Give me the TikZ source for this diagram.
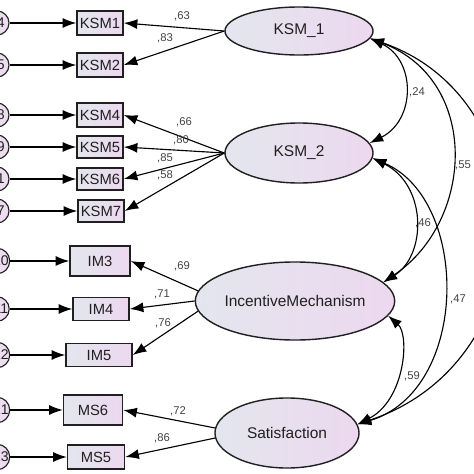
\documentclass[tikz,border=0pt]{standalone}
\usepackage{fontspec}
\setmainfont{Liberation Sans}
\usetikzlibrary{arrows.meta, shapes.geometric}
\usepackage{xcolor}
\definecolor{shadeL}{HTML}{E3E6EE}
\definecolor{shadeR}{HTML}{EDD8EF}
\definecolor{errfill}{HTML}{EEDDF0}
\definecolor{ink}{HTML}{202020}

\begin{document}
\begin{tikzpicture}[x=0.025cm, y=-0.025cm, >={Latex[length=0.34cm, width=0.25cm]}, line width=0.8pt,
  obs/.style={draw=ink, line width=1.1pt, left color=shadeL, right color=shadeR, inner sep=0pt, text=ink, font=\fontsize{10.5}{12}\selectfont},
  lat/.style={ellipse, draw=ink, line width=1pt, left color=shadeL, right color=shadeR, inner sep=0pt, text=ink, font=\fontsize{11}{13}\selectfont},
  err/.style={circle, draw=ink, fill=errfill, minimum size=0.6cm, inner sep=0pt, text=ink, font=\fontsize{10}{12}\selectfont},
  lbl/.style={inner sep=0pt, text=ink!85, font=\fontsize{8}{10}\selectfont}]
  \useasboundingbox (0,0) rectangle (474,474);
  \def\ex{-3}

  % latent factors
  \node[lat, minimum width=3.7cm, minimum height=1.2cm] (ksma) at (299,31) {KSM\_1};
  \node[lat, minimum width=3.7cm, minimum height=1.5cm] (ksmb) at (299,153) {KSM\_2};
  \node[lat, minimum width=4.1cm, minimum height=1.95cm] (incentive) at (295,301) {IncentiveMechanism};
  \node[lat, minimum width=3.6cm, minimum height=1.75cm] (satisf) at (287,433) {Satisfaction};

  % indicators and their errors
  \foreach \n/\x/\y/\w/\h/\e in {KSM1/100/23/46/24/e4, KSM2/100/65/46/24/e5,
      KSM4/100/115/46/24/e8, KSM5/100/147/46/22/e9, KSM6/100/179/46/22/e1,
      KSM7/101/211/46/22/e7, IM3/100/261/60/30/e10, IM4/101/309/56/23/e11,
      IM5/99/355/66/23/e12, MS6/93/410/59/30/e21, MS5/96/457/57/24/e23} {
    \node[obs, minimum width=\w*0.025cm, minimum height=\h*0.025cm] (\n) at (\x,\y) {\n};
    \node[err] (\e) at (\ex,\y) {\e};
    \draw[->] (\e) -- (\n);
  }

  % loadings
  \foreach \b/\v/\lx/\ly in {KSM1/63/182/16, KSM2/83/165/38} {
    \draw[->] (ksma.west) -- (\b.east);
    \node[lbl] (w\b) at (\lx,\ly) {,\v};
  }
  \foreach \b/\v/\lx/\ly in {KSM4/66/184/122, KSM5/80/181/140, KSM6/85/165/158, KSM7/58/165/175} {
    \draw[->] (ksmb.west) -- (\b.east);
    \node[lbl] (w\b) at (\lx,\ly) {,\v};
  }
  \foreach \b/\a/\v/\lx/\ly in {IM3/174/69/182/266, IM4/180/71/162/294, IM5/186/76/163/323} {
    \draw[->] (incentive.\a) -- (\b.east);
    \node[lbl] (w\b) at (\lx,\ly) {,\v};
  }
  \foreach \b/\a/\v/\lx/\ly in {MS6/176/72/178/411, MS5/184/86/162/438} {
    \draw[->] (satisf.\a) -- (\b.east);
    \node[lbl] (w\b) at (\lx,\ly) {,\v};
  }

  % covariances
  \draw[<->] (ksma.-6) .. controls (416,60) and (416,120) .. (ksmb.8);
  \draw[<->] (ksma.-6) .. controls (480,80) and (475,220) .. (incentive.12);
  \draw[<->] (ksma.-6) .. controls (548,100) and (548,360) .. (satisf.7);
  \draw[<->] (ksmb.-4) .. controls (427,185) and (427,255) .. (incentive.12);
  \draw[<->] (ksmb.-4) .. controls (470,200) and (470,390) .. (satisf.7);
  \draw[<->] (incentive.-9) .. controls (410,335) and (405,400) .. (satisf.7);
  \node[lbl] (c24) at (417,92) {,24};
  \node[lbl] (c55) at (463,165) {,55};
  \node[lbl] (c46) at (423,223) {,46};
  \node[lbl] (c47) at (458,299) {,47};
  \node[lbl] (c59) at (412,376) {,59};
\end{tikzpicture}
\end{document}
